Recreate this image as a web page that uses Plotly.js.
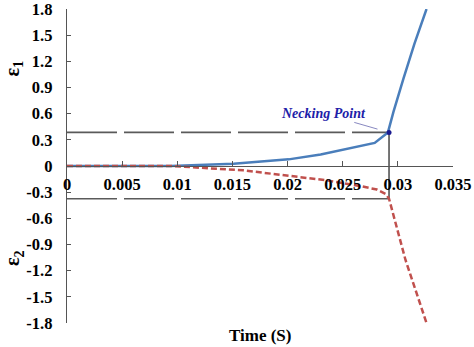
<!DOCTYPE html>
<html>
<head>
<meta charset="utf-8">
<script src="https://cdn.plot.ly/plotly-3.0.1.min.js"></script>
<style>
html,body{margin:0;padding:0;background:#fff;}
#chart{width:474px;height:347px;}
</style>
</head>
<body>
<div id="chart"></div>
<script>
// ε1 (major strain) vs time
const time1 = [0, 0.005, 0.0094, 0.0151, 0.0201, 0.023, 0.0251, 0.0279, 0.0291, 0.0296, 0.0305, 0.0315, 0.0326];
const eps1  = [0, 0, 0, 0.026, 0.076, 0.133, 0.19, 0.265, 0.385, 0.62, 1.0, 1.4, 1.8];
// ε2 (minor strain) vs time
const time2 = [0, 0.005, 0.0095, 0.016, 0.02, 0.0236, 0.0266, 0.0281, 0.0289, 0.0292, 0.0307, 0.0326];
const eps2  = [0, 0, 0, -0.05, -0.11, -0.165, -0.23, -0.27, -0.32, -0.375, -1.08, -1.8];
// necking point
const neckTime = 0.0292;
const neckE1 = 0.385;
const neckE2 = -0.375;
const neckLabel = "Necking Point";
// ticks
const yTicks = [-1.8, -1.5, -1.2, -0.9, -0.6, -0.3, 0, 0.3, 0.6, 0.9, 1.2, 1.5, 1.8];
const yTickText = ["-1.8", "-1.5", "-1.2", "-0.9", "-0.6", "-0.3", "0", "0.3", "0.6", "0.9", "1.2", "1.5", "1.8"];
const xTicks = [0, 0.005, 0.01, 0.015, 0.02, 0.025, 0.03, 0.035];
const xTickText = ["0", "0.005", "0.01", "0.015", "0.02", "0.025", "0.03", "0.035"];

const SERIF = '"Liberation Serif", "Times New Roman", Times, serif';
const refDash = {color: '#5a5a5a', width: 1.6, dash: '50px,7px'};
const traces = [
  {x: [0, neckTime], y: [neckE1, neckE1], mode: 'lines', line: refDash, hoverinfo: 'skip'},
  {x: [0, neckTime], y: [neckE2, neckE2], mode: 'lines', line: refDash, hoverinfo: 'skip'},
  {x: [neckTime, neckTime], y: [neckE1, neckE2], mode: 'lines', line: {color: '#3a3a3a', width: 1.4}, hoverinfo: 'skip'},
  {x: time1, y: eps1, mode: 'lines', line: {color: '#4a7ebb', width: 2.5}},
  {x: time2, y: eps2, mode: 'lines', line: {color: '#c0504d', width: 2.5, dash: '6px,3px'}},
  {x: [neckTime], y: [neckE1], mode: 'markers', marker: {color: '#1a1a90', size: 5}}
];

const tickFont = {family: SERIF, size: 16.5, color: '#000', weight: 'bold'};
const layout = {
  width: 474, height: 347,
  margin: {l: 67, r: 21, t: 9, b: 24, pad: 0},
  paper_bgcolor: '#fff', plot_bgcolor: '#fff',
  font: {family: SERIF},
  showlegend: false,
  xaxis: {
    range: [0, 0.035], tickvals: xTicks, ticktext: xTickText,
    anchor: 'free', position: 0.5, side: 'bottom',
    showline: true, linecolor: '#555', linewidth: 1.3,
    ticks: 'inside', ticklen: 5, tickcolor: '#555', tickwidth: 1,
    showgrid: false, zeroline: false,
    tickfont: tickFont,
    ticklabelstandoff: 3,
    ticklabeloverflow: 'allow'
  },
  yaxis: {
    range: [-1.8, 1.8], tickvals: yTicks, ticktext: yTickText,
    showline: true, linecolor: '#555', linewidth: 1.3,
    ticks: 'inside', ticklen: 4, tickcolor: '#555', tickwidth: 1,
    showgrid: false, zeroline: false,
    tickfont: tickFont,
    ticklabelstandoff: 10,
    ticklabeloverflow: 'allow'
  },
  annotations: [
    {xref: 'paper', yref: 'paper', x: 0.5, y: -0.041, yanchor: 'middle', xanchor: 'center',
     text: '<b>Time (S)</b>', showarrow: false,
     font: {family: SERIF, size: 17, color: '#000'}},
    {xref: 'paper', yref: 'paper', x: -0.138, y: 0.81, xanchor: 'center', yanchor: 'middle',
     text: '<b>ε<sub>1</sub></b>', textangle: -90, showarrow: false,
     font: {family: SERIF, size: 20, color: '#000'}},
    {xref: 'paper', yref: 'paper', x: -0.138, y: 0.206, xanchor: 'center', yanchor: 'middle',
     text: '<b>ε<sub>2</sub></b>', textangle: -90, showarrow: false,
     font: {family: SERIF, size: 20, color: '#000'}},
    {xref: 'x', yref: 'y', x: neckTime, y: neckE1, text: '<b><i>' + neckLabel + '</i></b>',
     showarrow: true, arrowhead: 0, arrowwidth: 0.8, arrowcolor: '#6a6ab0', standoff: 12,
     ax: -66, ay: -19,
     font: {family: SERIF, size: 14, color: '#2020a8'}}
  ]
};
Plotly.newPlot('chart', traces, layout, {displayModeBar: false, staticPlot: true});
</script>
</body>
</html>
